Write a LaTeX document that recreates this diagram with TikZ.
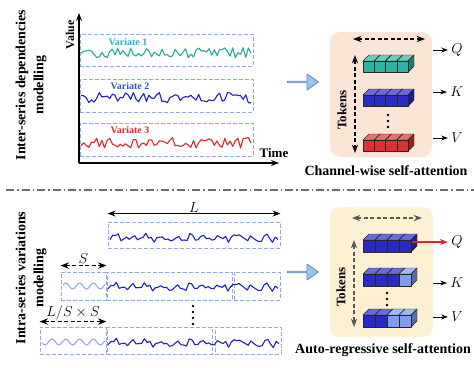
\documentclass[tikz,border=0pt]{standalone}
\usepackage{fontspec}
\setmainfont{Liberation Serif}
\usetikzlibrary{arrows.meta,shapes.arrows}

\definecolor{boxblue}{HTML}{8FAADC}
\definecolor{varteal}{HTML}{26A99A}
\definecolor{varcyan}{HTML}{2BB0CF}
\definecolor{varlab}{HTML}{3556C0}
\definecolor{varblue}{HTML}{1F1FC8}
\definecolor{varred}{HTML}{E32626}
\definecolor{lavender}{HTML}{A0A0E6}
\definecolor{peach}{HTML}{FBE5D6}
\definecolor{cream}{HTML}{FEF0D2}
\definecolor{arrfill}{HTML}{9DC3E6}
\definecolor{arrdraw}{HTML}{5B8CC8}
\definecolor{cubeteal}{HTML}{2DB3A3}
\definecolor{cubeblue}{HTML}{2A2AC8}
\definecolor{cubelight}{HTML}{7E9CF0}
\definecolor{cubered}{HTML}{DD3232}

\newcommand\tokcube[4]{%
  \filldraw[draw=black!85, line width=0.4pt, fill=#4!70!white]
    ({#1},{#2}) -- ++(6,-6) -- ++(#3,0) -- ++(-6,6) -- cycle;
  \filldraw[draw=black!85, line width=0.4pt, fill=#4!70!black]
    ({#1+#3},{#2}) -- ++(6,-6) -- ++(0,#3) -- ++(-6,6) -- cycle;
  \filldraw[draw=black!85, line width=0.4pt, fill=#4]
    ({#1},{#2}) rectangle ++(#3,#3);
}

\begin{document}
\begin{tikzpicture}[x=1pt, y=-1pt, >={Stealth[]}, line join=round,
  side/.style={font=\bfseries\fontsize{14}{18}\selectfont, align=center, rotate=90},
  title/.style={font=\bfseries\fontsize{14}{16}\selectfont},
  varlabel/.style={font=\bfseries\fontsize{10}{10}\selectfont},
  dbox/.style={draw=boxblue, dashed, dash pattern=on 4pt off 2pt, line width=0.9pt, inner sep=0pt},
  panel/.style={rounded corners=10pt, inner sep=0pt},
  bigarrow/.style={single arrow, draw=arrdraw, fill=arrfill, line width=0.8pt, minimum width=16pt,
                   minimum height=31pt, single arrow head extend=4pt, single arrow tip angle=70, inner sep=0pt},
  dimarrow/.style={<->, dashed, dash pattern=on 4pt off 2.5pt, line width=1.2pt},
  qkv/.style={font=\fontsize{14}{14}\selectfont},
  series/.style={line width=1.1pt},
  dot/.style={circle, fill, inner sep=0pt, minimum size=2.6pt}]
  \useasboundingbox (0,0) rectangle (474,367);

  \node[side] (intertxt) at (31,85) {Inter-series dependencies\\modelling};
  \coordinate (origin) at (79,163);
  \coordinate (ytop) at (79,13);
  \coordinate (xend) at (279,163);
  \draw[->, line width=1.1pt] (origin) -- (ytop);
  \draw[->, line width=1.1pt] (origin) -- (xend);
  \node[font=\bfseries\fontsize{12}{12}\selectfont, rotate=90] (valuetxt) at (70,35) {Value};
  \node[font=\bfseries\fontsize{13}{13}\selectfont] (timetxt) at (274,153) {Time};

  \node[dbox, minimum width=173pt, minimum height=32pt] (var1box) at (166.5,50) {};
  \node[dbox, minimum width=173pt, minimum height=33pt] (var2box) at (166.5,95.5) {};
  \node[dbox, minimum width=173pt, minimum height=33pt] (var3box) at (166.5,139.5) {};
  \pgfmathsetseed{11}
  \draw[series, varteal] plot[domain=81:251, samples=66] (\x,{53+5.5*rand});
  \pgfmathsetseed{23}
  \draw[series, varblue] plot[domain=81:251, samples=66] (\x,{98+5.5*rand});
  \pgfmathsetseed{37}
  \draw[series, varred] plot[domain=81:251, samples=66] (\x,{143+5.5*rand});
  \node[varlabel, text=varcyan] (var1txt) at (128,42) {Variate 1};
  \node[varlabel, text=varlab] (var2txt) at (130,86) {Variate 2};
  \node[varlabel, text=varred] (var3txt) at (130,130) {Variate 3};

  \node[bigarrow] (arrtop) at (302.5,82) {};

  \node[panel, fill=peach, minimum width=102pt, minimum height=125pt] (panelcw) at (381,94.5) {};
  \coordinate (hl1) at (353,39);
  \coordinate (hr1) at (425,39);
  \coordinate (vt1) at (355,55);
  \coordinate (vb1) at (355,153);
  \draw[dimarrow] (hl1) -- (hr1);
  \draw[dimarrow] (vt1) -- (vb1);
  \node[font=\bfseries\fontsize{13}{13}\selectfont, rotate=90] (tok1) at (342,110) {Tokens};
  \foreach \i in {0,...,3} {
    \tokcube{363+\i*11.25}{61}{11.25}{cubeteal}
    \tokcube{363+\i*11.25}{95}{11.25}{cubeblue}
    \tokcube{363+\i*11.25}{140}{11.25}{cubered}
  }
  \foreach \j in {0,1,2}
    \node[dot] (dota\j) at (388,115+\j*6) {};
  \node[qkv] (q1) at (457,50) {$Q$};
  \node[qkv] (k1) at (457,92) {$K$};
  \node[qkv] (v1) at (457,138) {$V$};
  \coordinate (qs1) at (433,50);
  \coordinate (ks1) at (433,92);
  \coordinate (vs1) at (433,138);
  \draw[->, line width=0.8pt] (qs1) -- (q1.west);
  \draw[->, line width=0.8pt] (ks1) -- (k1.west);
  \draw[->, line width=0.8pt] (vs1) -- (v1.west);
  \node[title] (cwtxt) at (386,171) {Channel-wise self-attention};

  \coordinate (divl) at (6,190);
  \coordinate (divr) at (474,190);
  \draw[gray!85!black, line width=1.1pt, dash pattern=on 8pt off 3pt on 1.5pt off 3pt] (divl) -- (divr);

  \node[side] (intratxt) at (31,278) {Intra-series variations\\modelling};
  \node[dbox, minimum width=172pt, minimum height=26pt] (row1) at (194,235) {};
  \node[dbox, minimum width=45pt, minimum height=28pt] (row2a) at (83.5,286) {};
  \node[dbox, minimum width=125pt, minimum height=28pt] (row2b) at (169.5,286) {};
  \node[dbox, minimum width=46pt, minimum height=28pt] (row2c) at (257,286) {};
  \node[dbox, minimum width=66pt, minimum height=27pt] (row3a) at (73,340.5) {};
  \node[dbox, minimum width=105pt, minimum height=27pt] (row3b) at (159.5,340.5) {};
  \node[dbox, minimum width=66pt, minimum height=27pt] (row3c) at (248,340.5) {};
  \pgfmathsetseed{5}
  \draw[series, varblue] plot[domain=110:278, samples=62] (\x,{238+2*sin(\x*24)+3*rand});
  \draw[series, lavender] plot[domain=63:105, samples=30] (\x,{286+3*sin(\x*26)});
  \pgfmathsetseed{5}
  \draw[series, varblue] plot[domain=108:278, samples=62] (\x,{287+2*sin(\x*24)+3*rand});
  \draw[series, lavender] plot[domain=42:105, samples=40] (\x,{342+3*sin(\x*26)});
  \pgfmathsetseed{5}
  \draw[series, varblue] plot[domain=108:279, samples=62] (\x,{343+2*sin(\x*24)+3*rand});

  \draw[<->, line width=1.1pt] ([yshift=8pt]row1.north west) -- node[above, qkv, inner sep=1pt] (ltxt) {$L$} ([yshift=8pt]row1.north east);
  \draw[dimarrow] ([yshift=6pt]row2a.north west) -- node[above, qkv, inner sep=1pt] (stxt) {$S$} ([yshift=6pt]row2a.north east);
  \draw[dimarrow] ([yshift=5pt]row3a.north west) -- node[above, qkv, inner sep=1pt] (lstxt) {$L/S\times S$} ([yshift=5pt]row3a.north east);
  \foreach \j in {0,...,3}
    \node[dot] (dotb\j) at (193,306+\j*6) {};

  \node[bigarrow] (arrbot) at (302.5,272) {};

  \node[panel, fill=cream, minimum width=103pt, minimum height=130pt] (panelar) at (381.5,272) {};
  \coordinate (hl2) at (352,218);
  \coordinate (hr2) at (422,218);
  \coordinate (vt2) at (354,240);
  \coordinate (vb2) at (354,327);
  \draw[dimarrow, black!65] (hl2) -- (hr2);
  \draw[dimarrow, black!65] (vt2) -- (vb2);
  \node[font=\bfseries\fontsize{13}{13}\selectfont, rotate=90] (tok2) at (341,287) {Tokens};
  \foreach \c [count=\i from 0] in {cubeblue,cubeblue,cubeblue,cubeblue}
    {\tokcube{363+\i*12}{240}{12}{\c}}
  \foreach \c [count=\i from 0] in {cubeblue,cubeblue,cubeblue,cubelight}
    {\tokcube{363+\i*12}{274}{12}{\c}}
  \foreach \c [count=\i from 0] in {cubeblue,cubeblue,cubelight,cubelight}
    {\tokcube{363+\i*12}{315}{12}{\c}}
  \foreach \j in {0,1,2}
    \node[dot] (dotc\j) at (387,293+\j*6) {};
  \node[qkv] (q2) at (457,242) {$Q$};
  \node[qkv] (k2) at (457,283) {$K$};
  \node[qkv] (v2) at (457,317) {$V$};
  \coordinate (qs2) at (412,242);
  \coordinate (ks2) at (433,283);
  \coordinate (vs2) at (433,317);
  \draw[->, varred, line width=1.1pt] (qs2) -- (q2.west);
  \draw[->, line width=0.8pt] (ks2) -- (k2.west);
  \draw[->, line width=0.8pt] (vs2) -- (v2.west);
  \node[title] (artxt) at (383,350) {Auto-regressive self-attention};
\end{tikzpicture}
\end{document}
